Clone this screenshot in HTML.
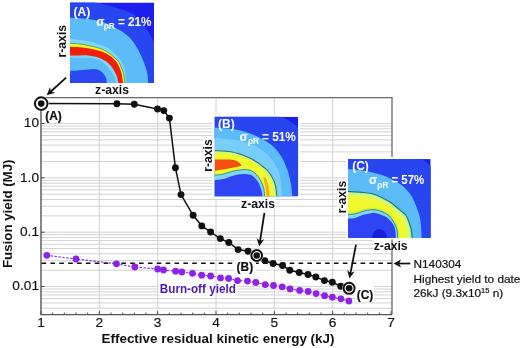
<!DOCTYPE html>
<html><head><meta charset="utf-8"><style>
html,body{margin:0;padding:0;background:#fff;}
svg{display:block;}
text{font-family:"Liberation Sans",Arial,Helvetica,sans-serif;}
.tl{font-size:13.7px;fill:#111;stroke:#111;stroke-width:0.15px;}
.ax{font-size:13px;font-weight:bold;fill:#111;}
.rt{font-size:11.8px;fill:#111;stroke:#111;stroke-width:0.2px;}
.lb{font-size:11.9px;font-weight:bold;fill:#111;stroke:#111;stroke-width:0.2px;}
.bo{font-size:12px;font-weight:bold;fill:#4a18b0;}
.il{font-size:12px;font-weight:bold;fill:#fff;}
.sb{font-size:8.3px;font-weight:bold;fill:#fff;}
.al{font-size:12.2px;font-weight:bold;fill:#111;}
</style></head><body>
<svg width="520" height="348" viewBox="0 0 520 348">
<rect width="520" height="348" fill="#fff"/>
<path d="M41,308.18H392 M41,302.91H392 M41,298.61H392 M41,294.97H392 M41,291.82H392 M41,289.04H392 M41,286.55H392 M41,270.19H392 M41,260.62H392 M41,253.83H392 M41,248.56H392 M41,244.26H392 M41,240.62H392 M41,237.47H392 M41,234.69H392 M41,232.20H392 M41,215.84H392 M41,206.27H392 M41,199.48H392 M41,194.21H392 M41,189.91H392 M41,186.27H392 M41,183.12H392 M41,180.34H392 M41,177.85H392 M41,161.49H392 M41,151.92H392 M41,145.13H392 M41,139.86H392 M41,135.56H392 M41,131.92H392 M41,128.77H392 M41,125.99H392 M41,123.50H392" stroke="#d2d2d2" stroke-width="1" fill="none"/>
<rect x="158.6" y="281" width="78.6" height="14.6" fill="#fff"/>
<path d="M99.33,97.7V314.6 M157.67,97.7V314.6 M216.00,97.7V314.6 M274.33,97.7V314.6 M332.66,97.7V314.6" stroke="#d2d2d2" stroke-width="1" fill="none"/>
<path d="M41,286.55h3.5 M41,232.20h3.5 M41,177.85h3.5 M41,123.50h3.5 M41.00,314.6v-3.5 M52.67,314.6v-2 M64.33,314.6v-2 M76.00,314.6v-2 M87.67,314.6v-2 M99.33,314.6v-3.5 M111.00,314.6v-2 M122.67,314.6v-2 M134.33,314.6v-2 M146.00,314.6v-2 M157.67,314.6v-3.5 M169.33,314.6v-2 M181.00,314.6v-2 M192.67,314.6v-2 M204.33,314.6v-2 M216.00,314.6v-3.5 M227.67,314.6v-2 M239.33,314.6v-2 M251.00,314.6v-2 M262.67,314.6v-2 M274.33,314.6v-3.5 M286.00,314.6v-2 M297.67,314.6v-2 M309.33,314.6v-2 M321.00,314.6v-2 M332.66,314.6v-3.5 M344.33,314.6v-2 M356.00,314.6v-2 M367.66,314.6v-2 M379.33,314.6v-2 M391.00,314.6v-3.5" stroke="#444" stroke-width="1" fill="none"/>
<path d="M41,97.7H392V314.6" stroke="#6a6a6a" stroke-width="1.3" fill="none"/>
<path d="M41,97.7V314.6H392" stroke="#555" stroke-width="1.4" fill="none"/>
<text x="39" y="127.40" text-anchor="end" class="tl">10</text>
<text x="39" y="181.75" text-anchor="end" class="tl">1.0</text>
<text x="39" y="236.10" text-anchor="end" class="tl">0.1</text>
<text x="39" y="290.45" text-anchor="end" class="tl">0.01</text>
<text x="41.00" y="327.1" text-anchor="middle" class="tl">1</text>
<text x="99.33" y="327.1" text-anchor="middle" class="tl">2</text>
<text x="157.67" y="327.1" text-anchor="middle" class="tl">3</text>
<text x="216.00" y="327.1" text-anchor="middle" class="tl">4</text>
<text x="274.33" y="327.1" text-anchor="middle" class="tl">5</text>
<text x="332.66" y="327.1" text-anchor="middle" class="tl">6</text>
<text x="391.00" y="327.1" text-anchor="middle" class="tl">7</text>
<text x="101.5" y="343.3" class="ax" textLength="233" lengthAdjust="spacingAndGlyphs">Effective residual kinetic energy (kJ)</text>
<text transform="translate(11.8,268) rotate(-90)" x="0" y="0" class="ax" textLength="108.5" lengthAdjust="spacingAndGlyphs">Fusion yield (MJ)</text>
<path d="M41.6,263.2H392" stroke="#111" stroke-width="1.5" stroke-dasharray="4.6 4.26" fill="none"/>
<path d="M410.3,263.5H398" stroke="#111" stroke-width="1.7" fill="none"/><path d="M393.6,263.5L401,259.4L399.2,263.5L401,267.6Z" fill="#111"/>
<text x="413.5" y="268.3" class="rt">N140304</text>
<text x="413.5" y="282.6" class="rt">Highest yield to date</text>
<text x="413.5" y="297" class="rt">26kJ (9.3x10<tspan dy="-4" font-size="7.5">15</tspan><tspan dy="4"> n)</tspan></text>
<rect x="234" y="258.5" width="22" height="16" fill="#fff"/>
<rect x="355" y="284.5" width="19" height="17" fill="#fff"/>
<polyline points="46.8,255.3 76,259 116.5,263.8 134.8,267 157.6,269 163.5,270 175.6,271.2 181.8,272 192.5,273.3 201.7,275.2 210.6,276 220.5,277.9 228.6,278.4 237.5,280.6 247.5,281.1 255.8,282.5 265.2,284.6 273.5,285.5 282.2,286.8 290.1,288.9 299.6,290.4 308.1,291.4 316.1,293.6 324.6,295.7 332.4,297.2 340.9,298.8 348.9,301" stroke="#7c3cd0" stroke-width="1.2" stroke-dasharray="2.4 1.5" fill="none"/>
<circle cx="46.8" cy="255.3" r="3.4" fill="#8e22e8"/>
<circle cx="76" cy="259" r="3.4" fill="#8e22e8"/>
<circle cx="116.5" cy="263.8" r="3.4" fill="#8e22e8"/>
<circle cx="134.8" cy="267" r="3.4" fill="#8e22e8"/>
<circle cx="157.6" cy="269" r="3.4" fill="#8e22e8"/>
<circle cx="163.5" cy="270" r="3.4" fill="#8e22e8"/>
<circle cx="175.6" cy="271.2" r="3.4" fill="#8e22e8"/>
<circle cx="181.8" cy="272" r="3.4" fill="#8e22e8"/>
<circle cx="192.5" cy="273.3" r="3.4" fill="#8e22e8"/>
<circle cx="201.7" cy="275.2" r="3.4" fill="#8e22e8"/>
<circle cx="210.6" cy="276" r="3.4" fill="#8e22e8"/>
<circle cx="220.5" cy="277.9" r="3.4" fill="#8e22e8"/>
<circle cx="228.6" cy="278.4" r="3.4" fill="#8e22e8"/>
<circle cx="237.5" cy="280.6" r="3.4" fill="#8e22e8"/>
<circle cx="247.5" cy="281.1" r="3.4" fill="#8e22e8"/>
<circle cx="255.8" cy="282.5" r="3.4" fill="#8e22e8"/>
<circle cx="265.2" cy="284.6" r="3.4" fill="#8e22e8"/>
<circle cx="273.5" cy="285.5" r="3.4" fill="#8e22e8"/>
<circle cx="282.2" cy="286.8" r="3.4" fill="#8e22e8"/>
<circle cx="290.1" cy="288.9" r="3.4" fill="#8e22e8"/>
<circle cx="299.6" cy="290.4" r="3.4" fill="#8e22e8"/>
<circle cx="308.1" cy="291.4" r="3.4" fill="#8e22e8"/>
<circle cx="316.1" cy="293.6" r="3.4" fill="#8e22e8"/>
<circle cx="324.6" cy="295.7" r="3.4" fill="#8e22e8"/>
<circle cx="332.4" cy="297.2" r="3.4" fill="#8e22e8"/>
<circle cx="340.9" cy="298.8" r="3.4" fill="#8e22e8"/>
<circle cx="348.9" cy="301" r="3.4" fill="#8e22e8"/>
<polyline points="41.2,103.6 116.9,103.8 134.3,104.2 157.5,109 163.8,110.6 169.4,118.1 175.4,167.7 181,194.6 193.1,215.3 201.8,225.9 210.6,232 220.3,238.6 228.8,242.5 238.1,249.6 248.1,251.2 256,255.2 264.8,260.6 273.1,263.5 282.5,265.5 289.8,270.2 299.2,272.5 308,274.5 315.8,277 324.4,280.6 332.3,282.3 340.7,286.2 348.9,288.6" stroke="#111" stroke-width="1.5" fill="none"/>
<circle cx="41.2" cy="103.6" r="3.45" fill="#111"/>
<circle cx="116.9" cy="103.8" r="3.45" fill="#111"/>
<circle cx="134.3" cy="104.2" r="3.45" fill="#111"/>
<circle cx="157.5" cy="109" r="3.45" fill="#111"/>
<circle cx="163.8" cy="110.6" r="3.45" fill="#111"/>
<circle cx="169.4" cy="118.1" r="3.45" fill="#111"/>
<circle cx="175.4" cy="167.7" r="3.45" fill="#111"/>
<circle cx="181" cy="194.6" r="3.45" fill="#111"/>
<circle cx="193.1" cy="215.3" r="3.45" fill="#111"/>
<circle cx="201.8" cy="225.9" r="3.45" fill="#111"/>
<circle cx="210.6" cy="232" r="3.45" fill="#111"/>
<circle cx="220.3" cy="238.6" r="3.45" fill="#111"/>
<circle cx="228.8" cy="242.5" r="3.45" fill="#111"/>
<circle cx="238.1" cy="249.6" r="3.45" fill="#111"/>
<circle cx="248.1" cy="251.2" r="3.45" fill="#111"/>
<circle cx="256" cy="255.2" r="3.45" fill="#111"/>
<circle cx="264.8" cy="260.6" r="3.45" fill="#111"/>
<circle cx="273.1" cy="263.5" r="3.45" fill="#111"/>
<circle cx="282.5" cy="265.5" r="3.45" fill="#111"/>
<circle cx="289.8" cy="270.2" r="3.45" fill="#111"/>
<circle cx="299.2" cy="272.5" r="3.45" fill="#111"/>
<circle cx="308" cy="274.5" r="3.45" fill="#111"/>
<circle cx="315.8" cy="277" r="3.45" fill="#111"/>
<circle cx="324.4" cy="280.6" r="3.45" fill="#111"/>
<circle cx="332.3" cy="282.3" r="3.45" fill="#111"/>
<circle cx="340.7" cy="286.2" r="3.45" fill="#111"/>
<circle cx="348.9" cy="288.6" r="3.45" fill="#111"/>
<circle cx="41.2" cy="103.6" r="6.3" fill="#fff" stroke="#fff" stroke-width="2.6"/>
<circle cx="41.2" cy="103.6" r="6.3" fill="none" stroke="#111" stroke-width="2"/>
<circle cx="41.2" cy="103.6" r="3.3" fill="#111"/>
<circle cx="256.7" cy="255.5" r="5.4" fill="#fff" stroke="#fff" stroke-width="2.6"/>
<circle cx="256.7" cy="255.5" r="5.4" fill="none" stroke="#111" stroke-width="2"/>
<circle cx="256.7" cy="255.5" r="3.3" fill="#111"/>
<circle cx="349.1" cy="288.3" r="5.5" fill="#fff" stroke="#fff" stroke-width="2.6"/>
<circle cx="349.1" cy="288.3" r="5.5" fill="none" stroke="#111" stroke-width="2"/>
<circle cx="349.1" cy="288.3" r="3.3" fill="#111"/>
<text x="45.2" y="119.6" class="lb">(A)</text>
<text x="236.6" y="271.4" class="lb">(B)</text>
<text x="356.8" y="299" class="lb">(C)</text>
<text x="159.8" y="293.3" class="bo" textLength="76" lengthAdjust="spacingAndGlyphs">Burn-off yield</text>
<path d="M66.1,77.6L50.84,91.53" stroke="#111" stroke-width="1.8" fill="none"/><path d="M46.7,95.3L50.05,87.10L50.84,91.53L55.17,92.72Z" fill="#111"/>
<path d="M264.4,212.9L260.05,241.07" stroke="#111" stroke-width="1.8" fill="none"/><path d="M259.2,246.6L256.66,238.11L260.05,241.07L264.18,239.27Z" fill="#111"/>
<path d="M356,244.6L350.47,273.10" stroke="#111" stroke-width="1.8" fill="none"/><path d="M349.4,278.6L347.19,270.02L350.47,273.10L354.65,271.47Z" fill="#111"/>
<rect x="68" y="0.5" width="88" height="84.5" fill="#fff"/><g transform="translate(70,2.5)"><clipPath id="ca"><rect width="84" height="80.5"/></clipPath><g clip-path="url(#ca)">
<rect width="84" height="80.5" fill="#1a1ff0"/>
<path d="M0.00,-2.00C3.78,-1.75 16.03,-1.42 22.70,-0.50C29.37,0.42 33.82,1.75 40.00,3.50C46.18,5.25 54.47,7.25 59.80,10.00C65.13,12.75 68.08,15.28 72.00,20.00C75.92,24.72 79.97,31.63 83.30,38.30C86.63,44.97 90.22,52.55 92.00,60.00C93.78,67.45 93.67,79.17 94.00,83.00L0,82.5Z" fill="#2846f0"/>
<path d="M0.00,15.30C3.33,15.55 14.17,15.97 20.00,16.80C25.83,17.63 30.33,18.63 35.00,20.30C39.67,21.97 44.17,24.60 48.00,26.80C51.83,29.00 55.17,30.97 58.00,33.50C60.83,36.03 62.92,38.92 65.00,42.00C67.08,45.08 68.83,48.50 70.50,52.00C72.17,55.50 73.83,59.67 75.00,63.00C76.17,66.33 76.93,68.67 77.50,72.00C78.07,75.33 78.25,81.17 78.40,83.00L0,82.5Z" fill="#5cbcf8"/>
<path d="M0.00,36.40C3.00,36.75 12.47,37.35 18.00,38.50C23.53,39.65 28.98,41.47 33.20,43.30C37.42,45.13 40.22,46.80 43.30,49.50C46.38,52.20 49.75,56.42 51.70,59.50C53.65,62.58 54.20,64.08 55.00,68.00C55.80,71.92 56.25,80.50 56.50,83.00L0,82.5Z" fill="#80d6f8"/>
<path d="M0.00,40.90C1.67,41.00 7.00,41.15 10.00,41.50C13.00,41.85 15.33,42.45 18.00,43.00C20.67,43.55 23.47,44.12 26.00,44.80C28.53,45.48 31.03,46.15 33.20,47.10C35.37,48.05 37.32,49.35 39.00,50.50C40.68,51.65 41.68,52.53 43.30,54.00C44.92,55.47 47.33,57.38 48.70,59.30C50.07,61.22 50.65,63.38 51.50,65.50C52.35,67.62 53.23,69.08 53.80,72.00C54.37,74.92 54.72,81.17 54.90,83.00L0,82.5Z" fill="#f0f82e"/>
<path d="M0.00,44.30C1.67,44.38 7.00,44.55 10.00,44.80C13.00,45.05 15.33,45.35 18.00,45.80C20.67,46.25 23.47,46.87 26.00,47.50C28.53,48.13 31.03,48.72 33.20,49.60C35.37,50.48 37.32,51.75 39.00,52.80C40.68,53.85 42.05,54.78 43.30,55.90C44.55,57.02 45.47,57.98 46.50,59.50C47.53,61.02 48.62,62.92 49.50,65.00C50.38,67.08 51.17,69.00 51.80,72.00C52.43,75.00 53.05,81.17 53.30,83.00L0,82.5Z" fill="#f01e0a"/>
<path d="M0.00,53.00C1.67,52.98 7.00,52.92 10.00,52.90C13.00,52.88 15.62,52.72 18.00,52.90C20.38,53.08 22.20,53.50 24.30,54.00C26.40,54.50 28.48,54.98 30.60,55.90C32.72,56.82 35.18,58.15 37.00,59.50C38.82,60.85 40.20,62.33 41.50,64.00C42.80,65.67 43.85,67.67 44.80,69.50C45.75,71.33 46.57,72.75 47.20,75.00C47.83,77.25 48.37,81.67 48.60,83.00L0,82.5Z" fill="#80d6f8"/>
<path d="M0.00,55.30C3.00,55.28 13.95,55.03 18.00,55.20C22.05,55.37 22.20,55.78 24.30,56.30C26.40,56.82 28.73,57.35 30.60,58.30C32.47,59.25 34.02,60.63 35.50,62.00C36.98,63.37 38.25,64.83 39.50,66.50C40.75,68.17 42.00,70.25 43.00,72.00C44.00,73.75 44.92,75.17 45.50,77.00C46.08,78.83 46.33,82.00 46.50,83.00L0,82.5Z" fill="#5cbcf8"/>
<path d="M0.00,68.50C1.67,68.38 6.50,68.08 10.00,67.80C13.50,67.52 18.17,66.93 21.00,66.80C23.83,66.67 25.30,66.63 27.00,67.00C28.70,67.37 29.95,68.08 31.20,69.00C32.45,69.92 33.65,71.25 34.50,72.50C35.35,73.75 35.88,74.75 36.30,76.50C36.72,78.25 36.88,81.92 37.00,83.00L0,82.5Z" fill="#2d46f4"/>
<path d="M0.00,40.90C1.67,41.00 7.00,41.15 10.00,41.50C13.00,41.85 15.33,42.45 18.00,43.00C20.67,43.55 23.47,44.12 26.00,44.80C28.53,45.48 31.03,46.15 33.20,47.10C35.37,48.05 37.32,49.35 39.00,50.50C40.68,51.65 41.68,52.53 43.30,54.00C44.92,55.47 47.33,57.38 48.70,59.30C50.07,61.22 50.65,63.38 51.50,65.50C52.35,67.62 53.23,69.08 53.80,72.00C54.37,74.92 54.72,81.17 54.90,83.00" fill="none" stroke="#5c9a45" stroke-width="0.9"/>
</g>
<text x="3.5" y="13.2" class="il">(A)</text>
<text x="26.2" y="23" class="il">σ</text><text x="33.7" y="26.3" class="sb">ρR</text><text x="48" y="23.5" class="il" textLength="33.5" lengthAdjust="spacingAndGlyphs">= 21%</text>
</g>
<rect x="212.5" y="114.8" width="87.6" height="83.4" fill="#fff"/><g transform="translate(214.5,116.8)"><clipPath id="cb"><rect width="83.6" height="79.4"/></clipPath><g clip-path="url(#cb)">
<rect width="83.6" height="79.4" fill="#1a1ff0"/>
<path d="M0.00,-4.00C6.67,-3.83 30.00,-3.50 40.00,-3.00C50.00,-2.50 55.63,-1.50 60.00,-1.00C64.37,-0.50 63.87,-0.75 66.20,0.00C68.53,0.75 71.70,2.25 74.00,3.50C76.30,4.75 78.50,6.32 80.00,7.50C81.50,8.68 80.50,6.85 83.00,10.60C85.50,14.35 92.17,15.93 95.00,30.00C97.83,44.07 99.17,84.17 100.00,95.00L0,81.4Z" fill="#2846f0"/>
<path d="M0.00,10.60C3.33,10.92 14.17,11.52 20.00,12.50C25.83,13.48 30.17,14.75 35.00,16.50C39.83,18.25 44.83,20.58 49.00,23.00C53.17,25.42 56.83,27.83 60.00,31.00C63.17,34.17 65.75,38.00 68.00,42.00C70.25,46.00 72.08,50.67 73.50,55.00C74.92,59.33 75.75,63.50 76.50,68.00C77.25,72.50 77.75,79.67 78.00,82.00L0,81.4Z" fill="#5cbcf8"/>
<path d="M0.00,21.00C4.17,21.50 18.00,22.50 25.00,24.00C32.00,25.50 37.00,27.33 42.00,30.00C47.00,32.67 51.50,36.33 55.00,40.00C58.50,43.67 61.08,47.83 63.00,52.00C64.92,56.17 65.70,60.00 66.50,65.00C67.30,70.00 67.58,79.17 67.80,82.00L0,81.4Z" fill="#78cef8"/>
<path d="M0.00,33.80C2.67,34.00 11.67,34.38 16.00,35.00C20.33,35.62 22.67,36.42 26.00,37.50C29.33,38.58 33.00,40.00 36.00,41.50C39.00,43.00 41.92,45.08 44.00,46.50C46.08,47.92 47.08,48.88 48.50,50.00C49.92,51.12 50.93,51.38 52.50,53.20C54.07,55.02 56.48,58.32 57.90,60.90C59.32,63.48 60.28,65.85 61.00,68.70C61.72,71.55 61.97,75.78 62.20,78.00C62.43,80.22 62.37,81.33 62.40,82.00L0,81.4Z" fill="#d4f878"/>
<path d="M0.00,36.30C2.67,36.50 11.67,36.88 16.00,37.50C20.33,38.12 22.67,38.92 26.00,40.00C29.33,41.08 33.08,42.50 36.00,44.00C38.92,45.50 41.58,47.58 43.50,49.00C45.42,50.42 46.25,51.33 47.50,52.50C48.75,53.67 49.67,54.33 51.00,56.00C52.33,57.67 54.28,60.25 55.50,62.50C56.72,64.75 57.63,66.92 58.30,69.50C58.97,72.08 59.27,75.92 59.50,78.00C59.73,80.08 59.67,81.33 59.70,82.00L0,81.4Z" fill="#f0f82e"/>
<path d="M0,42.7 L15,42.7 C21,42.9 25,45 27.2,49 C22,50.5 10,52.5 0,54Z" fill="#f25010"/>
<path d="M52,82 C51.8,74 50.6,67 48.8,61 C49.6,60.6 50.4,60.6 51.2,60.8 C53.8,67 55.2,74 55.4,82Z" fill="#f25010" opacity="0.45"/>
<path d="M0.00,58.40C1.43,58.22 5.50,57.98 8.60,57.30C11.70,56.62 15.25,55.05 18.60,54.30C21.95,53.55 25.97,52.97 28.70,52.80C31.43,52.63 33.23,52.85 35.00,53.30C36.77,53.75 37.88,54.47 39.30,55.50C40.72,56.53 42.25,57.92 43.50,59.50C44.75,61.08 45.83,62.92 46.80,65.00C47.77,67.08 48.70,69.17 49.30,72.00C49.90,74.83 50.22,80.33 50.40,82.00L0,81.4Z" fill="#80d6f8"/>
<path d="M0.00,63.40C1.43,63.22 5.50,63.05 8.60,62.30C11.70,61.55 15.25,59.73 18.60,58.90C21.95,58.07 25.97,57.48 28.70,57.30C31.43,57.12 33.23,57.33 35.00,57.80C36.77,58.27 37.77,58.68 39.30,60.10C40.83,61.52 42.87,63.88 44.20,66.30C45.53,68.72 46.63,71.98 47.30,74.60C47.97,77.22 48.05,80.77 48.20,82.00L0,81.4Z" fill="#2f45f4"/>
<path d="M0.00,33.80C2.67,34.00 11.67,34.38 16.00,35.00C20.33,35.62 22.67,36.42 26.00,37.50C29.33,38.58 33.00,40.00 36.00,41.50C39.00,43.00 41.92,45.08 44.00,46.50C46.08,47.92 47.08,48.88 48.50,50.00C49.92,51.12 50.93,51.38 52.50,53.20C54.07,55.02 56.48,58.32 57.90,60.90C59.32,63.48 60.28,65.85 61.00,68.70C61.72,71.55 61.97,75.78 62.20,78.00C62.43,80.22 62.37,81.33 62.40,82.00" fill="none" stroke="#1f7a70" stroke-width="1.1"/>
<path d="M0.00,58.40C1.43,58.22 5.50,57.98 8.60,57.30C11.70,56.62 15.25,55.05 18.60,54.30C21.95,53.55 25.97,52.97 28.70,52.80C31.43,52.63 33.23,52.85 35.00,53.30C36.77,53.75 37.88,54.47 39.30,55.50C40.72,56.53 42.25,57.92 43.50,59.50C44.75,61.08 45.83,62.92 46.80,65.00C47.77,67.08 48.70,69.17 49.30,72.00C49.90,74.83 50.22,80.33 50.40,82.00" fill="none" stroke="#1f7a70" stroke-width="0.8"/>
</g>
<text x="3.6" y="11.6" class="il">(B)</text>
<text x="25.1" y="24.2" class="il">σ</text><text x="33.4" y="27.5" class="sb">ρR</text><text x="47.5" y="24.3" class="il" textLength="33.9" lengthAdjust="spacingAndGlyphs">= 51%</text>
</g>
<rect x="346" y="157.1" width="86.7" height="82.9" fill="#fff"/><g transform="translate(348,159.1)"><clipPath id="cc"><rect width="82.7" height="78.9"/></clipPath><g clip-path="url(#cc)">
<rect width="82.7" height="78.9" fill="#1a1ff0"/>
<path d="M0.00,-4.00C6.67,-3.83 29.00,-3.50 40.00,-3.00C51.00,-2.50 60.43,-1.50 66.00,-1.00C71.57,-0.50 71.40,-0.67 73.40,0.00C75.40,0.67 76.45,1.67 78.00,3.00C79.55,4.33 79.87,3.50 82.70,8.00C85.53,12.50 92.12,15.50 95.00,30.00C97.88,44.50 99.17,84.17 100.00,95.00L0,80.9Z" fill="#2846f0"/>
<path d="M0.00,10.00C2.50,10.25 9.67,10.58 15.00,11.50C20.33,12.42 27.30,14.08 32.00,15.50C36.70,16.92 39.47,18.13 43.20,20.00C46.93,21.87 51.03,23.90 54.40,26.70C57.77,29.50 60.97,33.07 63.40,36.80C65.83,40.53 67.50,45.00 69.00,49.10C70.50,53.20 71.60,56.25 72.40,61.40C73.20,66.55 73.57,76.90 73.80,80.00L0,80.9Z" fill="#5cbcf8"/>
<path d="M0.00,32.30C2.65,32.48 11.32,32.85 15.90,33.40C20.48,33.95 23.22,34.05 27.50,35.60C31.78,37.15 37.62,40.22 41.60,42.70C45.58,45.18 48.70,48.30 51.40,50.50C54.10,52.70 56.20,53.80 57.80,55.90C59.40,58.00 60.10,60.70 61.00,63.10C61.90,65.50 62.65,67.48 63.20,70.30C63.75,73.12 64.12,78.38 64.30,80.00L0,80.9Z" fill="#a8f0a0"/>
<path d="M0.00,33.90C2.65,34.08 11.32,34.45 15.90,35.00C20.48,35.55 23.22,35.67 27.50,37.20C31.78,38.73 37.77,41.77 41.60,44.20C45.43,46.63 48.02,49.67 50.50,51.80C52.98,53.93 54.98,55.03 56.50,57.00C58.02,58.97 58.72,61.35 59.60,63.60C60.48,65.85 61.27,67.77 61.80,70.50C62.33,73.23 62.63,78.42 62.80,80.00L0,80.9Z" fill="#d4f878"/>
<path d="M0.00,37.00C2.65,37.20 11.32,37.62 15.90,38.20C20.48,38.78 23.48,39.03 27.50,40.50C31.52,41.97 36.58,44.83 40.00,47.00C43.42,49.17 45.75,51.58 48.00,53.50C50.25,55.42 52.03,56.75 53.50,58.50C54.97,60.25 55.97,62.00 56.80,64.00C57.63,66.00 58.10,67.83 58.50,70.50C58.90,73.17 59.08,78.42 59.20,80.00L0,80.9Z" fill="#f0f82e"/>
<path d="M0.00,53.50C1.33,53.35 5.50,53.15 8.00,52.60C10.50,52.05 12.67,50.83 15.00,50.20C17.33,49.57 19.83,49.03 22.00,48.80C24.17,48.57 25.83,48.45 28.00,48.80C30.17,49.15 32.73,49.87 35.00,50.90C37.27,51.93 39.85,53.48 41.60,55.00C43.35,56.52 44.27,58.25 45.50,60.00C46.73,61.75 48.15,63.67 49.00,65.50C49.85,67.33 50.22,68.58 50.60,71.00C50.98,73.42 51.18,78.50 51.30,80.00L0,80.9Z" fill="#c8f040"/>
<path d="M0.00,55.60C1.33,55.43 5.50,55.17 8.00,54.60C10.50,54.03 12.67,52.83 15.00,52.20C17.33,51.57 19.83,51.03 22.00,50.80C24.17,50.57 25.83,50.43 28.00,50.80C30.17,51.17 32.73,51.95 35.00,53.00C37.27,54.05 39.93,55.60 41.60,57.10C43.27,58.60 43.93,60.27 45.00,62.00C46.07,63.73 47.28,65.67 48.00,67.50C48.72,69.33 49.03,70.92 49.30,73.00C49.57,75.08 49.55,78.83 49.60,80.00L0,80.9Z" fill="#80d6f8"/>
<path d="M0.00,59.60C1.33,59.43 5.50,59.25 8.00,58.60C10.50,57.95 12.67,56.42 15.00,55.70C17.33,54.98 19.92,54.60 22.00,54.30C24.08,54.00 25.33,53.53 27.50,53.90C29.67,54.27 32.65,55.38 35.00,56.50C37.35,57.62 39.77,58.85 41.60,60.60C43.43,62.35 45.02,64.93 46.00,67.00C46.98,69.07 47.20,70.83 47.50,73.00C47.80,75.17 47.75,78.83 47.80,80.00L0,80.9Z" fill="#2f45f4"/>
<path d="M24,80 C24,74 27,70.2 31.5,70.2 C36,70.2 39,74 39,80Z" fill="#1820dc"/>
<path d="M0.00,32.30C2.65,32.48 11.32,32.85 15.90,33.40C20.48,33.95 23.22,34.05 27.50,35.60C31.78,37.15 37.62,40.22 41.60,42.70C45.58,45.18 48.70,48.30 51.40,50.50C54.10,52.70 56.20,53.80 57.80,55.90C59.40,58.00 60.10,60.70 61.00,63.10C61.90,65.50 62.65,67.48 63.20,70.30C63.75,73.12 64.12,78.38 64.30,80.00" fill="none" stroke="#1f7a70" stroke-width="1.2"/>
<path d="M0.00,55.60C1.33,55.43 5.50,55.17 8.00,54.60C10.50,54.03 12.67,52.83 15.00,52.20C17.33,51.57 19.83,51.03 22.00,50.80C24.17,50.57 25.83,50.43 28.00,50.80C30.17,51.17 32.73,51.95 35.00,53.00C37.27,54.05 39.93,55.60 41.60,57.10C43.27,58.60 43.93,60.27 45.00,62.00C46.07,63.73 47.28,65.67 48.00,67.50C48.72,69.33 49.03,70.92 49.30,73.00C49.57,75.08 49.55,78.83 49.60,80.00" fill="none" stroke="#1f7a70" stroke-width="0.8"/>
</g>
<text x="4.2" y="11.4" class="il">(C)</text>
<text x="20.9" y="25" class="il">σ</text><text x="29.3" y="28.8" class="sb">ρR</text><text x="43.5" y="25.2" class="il" textLength="32.6" lengthAdjust="spacingAndGlyphs">= 57%</text>
</g>
<rect x="240.5" y="198" width="35" height="10.5" fill="#fff"/>
<rect x="203.8" y="139" width="10.7" height="32" fill="#fff"/>
<rect x="373.5" y="239.5" width="34.5" height="11" fill="#fff"/><path d="M392,239.5V250.5" stroke="#6a6a6a" stroke-width="1.3"/>
<rect x="337.2" y="180" width="10.8" height="33" fill="#fff"/>
<text x="112" y="94" text-anchor="middle" class="al">z-axis</text>
<text transform="translate(66.3,41.2) rotate(-90)" text-anchor="middle" class="al">r-axis</text>
<text x="258" y="207.6" text-anchor="middle" class="al">z-axis</text>
<text transform="translate(211.5,155.5) rotate(-90)" text-anchor="middle" class="al">r-axis</text>
<text x="390.7" y="249.9" text-anchor="middle" class="al">z-axis</text>
<text transform="translate(345.5,197) rotate(-90)" text-anchor="middle" class="al">r-axis</text>
</svg>
</body></html>
